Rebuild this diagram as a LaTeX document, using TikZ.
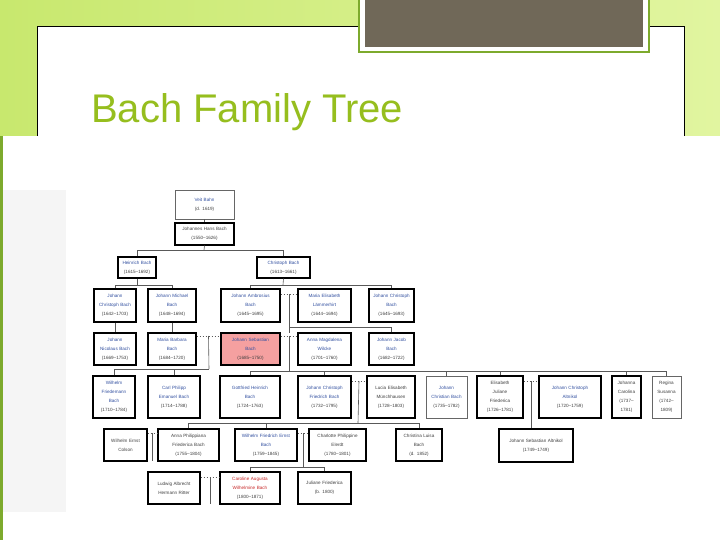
\documentclass[tikz,border=0pt]{standalone}
\usepackage{fontspec}
\setmainfont{Liberation Sans}
\definecolor{bgA}{RGB}{200,232,110}
\definecolor{bgB}{RGB}{225,245,160}
\definecolor{ttl}{RGB}{150,190,30}
\definecolor{brn}{RGB}{112,104,88}
\definecolor{frm}{RGB}{125,170,45}
\definecolor{nblue}{RGB}{50,80,160}
\definecolor{jsb}{RGB}{245,160,160}
\definecolor{nred}{RGB}{200,40,40}
\begin{document}
\begin{tikzpicture}[x=1pt,y=-1pt,
  box/.style={draw=black,line width=1.1pt,fill=white,inner sep=0pt,align=center,font=\fontsize{4.6}{9}\selectfont,text=black!75},
  thin/.style={line width=0.7pt,draw=black!60},
  bl/.style={text=nblue},
  ln/.style={draw=black!65,line width=0.6pt},
  mar/.style={draw=black!65,line width=0.6pt,dashed,dash pattern=on 1.5pt off 1.5pt}]
\newcommand\bx[7][]{\node[box,#1,minimum width={(#5-#3)*1pt},minimum height={(#6-#4)*1pt},text width={(#5-#3-3)*1pt}] (#2) at ({(#3+#5)/2},{(#4+#6)/2}) {#7};}
\useasboundingbox (0,0) rectangle (720,540);
% slide background
\shade[left color=bgA,right color=bgB] (0,0) rectangle (720,540);
\fill[white,draw=black,line width=0.8pt] (37,26) rectangle (684,560);
\fill[white] (358,0) rectangle (650,53);
\draw[frm,line width=2pt] (359,-2) rectangle (649,52);
\fill[brn] (365,0) rectangle (643,47);
\node[anchor=base west,text=ttl,font=\fontsize{40}{40}\selectfont,inner sep=0pt] (title) at (91,123) {Bach Family Tree};
% pasted image area
\fill[white] (0,136) rectangle (720,540);
\fill[black!4] (3,190) rectangle (66,512);
\fill[frm] (0,136) rectangle (3,540);
% row 1-2
\bx[thin]{veit}{175}{190}{234}{219}{\textcolor{nblue}{Veit Bahn}\\(d. 1619)}
\bx{hans}{175}{223}{234}{245}{Johannes Hans Bach\\(1550--1626)}
\bx{heinrich}{118}{257}{156}{278}{\textcolor{nblue}{Heinrich Bach}\\(1615--1692)}
\bx{christoph}{257}{257}{310}{278}{\textcolor{nblue}{Christoph Bach}\\(1613--1661)}
% row 3
\bx{jcb1}{94}{289}{136}{322}{\textcolor{nblue}{Johann\\Christoph Bach}\\(1642--1703)}
\bx{jmb}{148}{289}{196}{322}{\textcolor{nblue}{Johann Michael\\Bach}\\(1648--1694)}
\bx{jab}{221}{289}{280}{322}{\textcolor{nblue}{Johann Ambrosius\\Bach}\\(1645--1695)}
\bx{mel}{298}{289}{351}{322}{\textcolor{nblue}{Maria Elisabeth\\Lämmerhirt}\\(1644--1694)}
\bx{jcb2}{369}{289}{414}{322}{\textcolor{nblue}{Johann Christoph\\Bach}\\(1645--1693)}
% row 4
\bx{jnb}{94}{333}{136}{365}{\textcolor{nblue}{Johann\\Nicolaus Bach}\\(1669--1753)}
\bx{mbb}{148}{333}{196}{365}{\textcolor{nblue}{Maria Barbara\\Bach}\\(1684--1720)}
\bx[fill=jsb]{jsbach}{221}{333}{280}{365}{\textcolor{nblue}{Johann Sebastian\\Bach}\\(1685--1750)}
\bx{amw}{298}{333}{351}{365}{\textcolor{nblue}{Anna Magdalena\\Wilcke}\\(1701--1760)}
\bx{jjb}{369}{333}{414}{365}{\textcolor{nblue}{Johann Jacob\\Bach}\\(1682--1722)}
% row 5
\bx{wfb}{93}{376}{135}{418}{\textcolor{nblue}{Wilhelm\\Friedemann\\Bach}\\(1710--1784)}
\bx{cpe}{148}{376}{200}{418}{\textcolor{nblue}{Carl Philipp\\Emanuel Bach}\\(1714--1788)}
\bx{ghb}{220}{376}{280}{418}{\textcolor{nblue}{Gottfried Heinrich\\Bach}\\(1724--1763)}
\bx{jcfb}{298}{376}{351}{418}{\textcolor{nblue}{Johann Christoph\\Friedrich Bach}\\(1732--1795)}
\bx{lem}{367}{376}{415}{418}{Lucia Elisabeth\\Münchhausen\\(1728--1803)}
\bx[thin]{jchb}{426}{376}{467}{418}{\textcolor{nblue}{Johann\\Christian Bach}\\(1735--1782)}
\bx{ejf}{477}{376}{523}{418}{Elisabeth\\Juliane\\Friederica\\(1726--1781)}
\bx{jca}{539}{376}{601}{418}{\textcolor{nblue}{Johann Christoph\\Altnikol}\\(1720--1759)}
\bx{jcar}{612}{376}{641}{418}{Johanna\\Carolina\\(1737--\\1781)}
\bx[thin]{rsus}{652}{376}{681}{418}{Regina\\Susanna\\(1742--\\1809)}
% row 6
\bx{wec}{104}{429}{147}{461}{Wilhelm Ernst\\Colson}
\bx{apfb}{158}{429}{219}{461}{Anna Philippiana\\Friederica Bach\\(1755--1804)}
\bx{wfeb}{235}{429}{297}{461}{\textcolor{nblue}{Wilhelm Friedrich Ernst\\Bach}\\(1759--1845)}
\bx{cpe2}{309}{429}{366}{461}{Charlotte Philippine\\Elerdt\\(1780--1801)}
\bx{clb}{396}{429}{442}{461}{Christina Luisa\\Bach\\(d. 1852)}
\bx{jsa}{499}{429}{573}{462}{Johann Sebastian Altnikol\\(1749--1749)}
% row 7
\bx{lahr}{148}{472}{200}{504}{Ludwig Albrecht\\Hermann Ritter}
\bx{cawb}{220}{472}{280}{504}{\textcolor{nred}{Caroline Augusta\\Wilhelmine Bach}\\(1800--1871)}
\bx{jfr}{298}{472}{351}{504}{Juliane Friederica\\(b. 1800)}
% connectors
\draw[ln] (veit) -- (hans);
\coordinate (b1) at (204,250);
\draw[ln] (hans.south) -- (b1);
\draw[ln] (heinrich.north) |- (b1);
\draw[ln] (christoph.north) |- (b1);
\coordinate (b2) at (137,285);
\draw[ln] (heinrich.south) -- (b2);
\draw[ln] (jcb1.north) |- (b2);
\draw[ln] (jmb.north) |- (b2);
\coordinate (b3) at (283,285);
\draw[ln] (christoph.south) -- (b3);
\draw[ln] (jab.north) |- (b3);
\draw[ln] (jcb2.north) |- (b3);
\draw[ln] (jcb1) -- (jnb);
\draw[ln] (jmb) -- (mbb);
% Ambrosius + Maria Elisabeth
\draw[mar] (jab.east |- 0,294) -- coordinate (m1) (mel.west |- 0,294);
\coordinate (b4) at (289,327);
\draw[ln] (m1) -- (b4);
\draw[ln] (jjb.north) |- (b4);
\draw[ln] (b4) -- (289,333);
% JSB marriages
\draw[mar] (mbb.east |- 0,336) -- coordinate (m2) (jsbach.west |- 0,336);
\draw[mar] (jsbach.east |- 0,336) -- coordinate (m3) (amw.west |- 0,336);
\coordinate (b5) at (209,369);
\draw[ln] (m2) -- (b5);
\draw[ln] (wfb.north) |- (b5);
\draw[ln] (cpe.north) |- (b5);
\coordinate (b6) at (289,371);
\draw[ln] (m3) -- (b6);
\draw[ln] (ghb.north) |- (b6);
\draw[ln] (jcfb.north) |- (b6);
\draw[ln] (jchb.north) |- (b6);
\draw[ln] (ejf.north) |- (b6);
\draw[ln] (jcar.north) |- (b6);
\draw[ln] (rsus.north) |- (b6);
% JCF + Lucia
\draw[mar] (jcfb.east |- 0,381) -- coordinate (m4) (lem.west |- 0,381);
\coordinate (b7) at (358,423);
\draw[ln] (m4) -- (b7);
\draw[ln] (apfb.north) |- (b7);
\draw[ln] (wfeb.north) |- (b7);
\draw[ln] (clb.north) |- (b7);
% Elisabeth Juliane + Altnikol
\draw[mar] (ejf.east |- 0,381) -- coordinate (m5) (jca.west |- 0,381);
\draw[ln] (m5) -- (m5 |- jsa.north);
% row 6 marriages
\draw[mar] (wec.east |- 0,433) -- coordinate (m6) (apfb.west |- 0,433);
\draw[ln] (m6) -- (m6 |- 0,461);
\draw[mar] (wfeb.east |- 0,433) -- coordinate (m7) (cpe2.west |- 0,433);
\coordinate (b8) at (303,467);
\draw[ln] (m7) -- (b8);
\draw[ln] (cawb.north) |- (b8);
\draw[ln] (jfr.north) |- (b8);
% row 7 marriage
\draw[mar] (lahr.east |- 0,477) -- coordinate (m8) (cawb.west |- 0,477);
\draw[ln] (m8) -- (m8 |- 0,504);
\end{tikzpicture}
\end{document}
